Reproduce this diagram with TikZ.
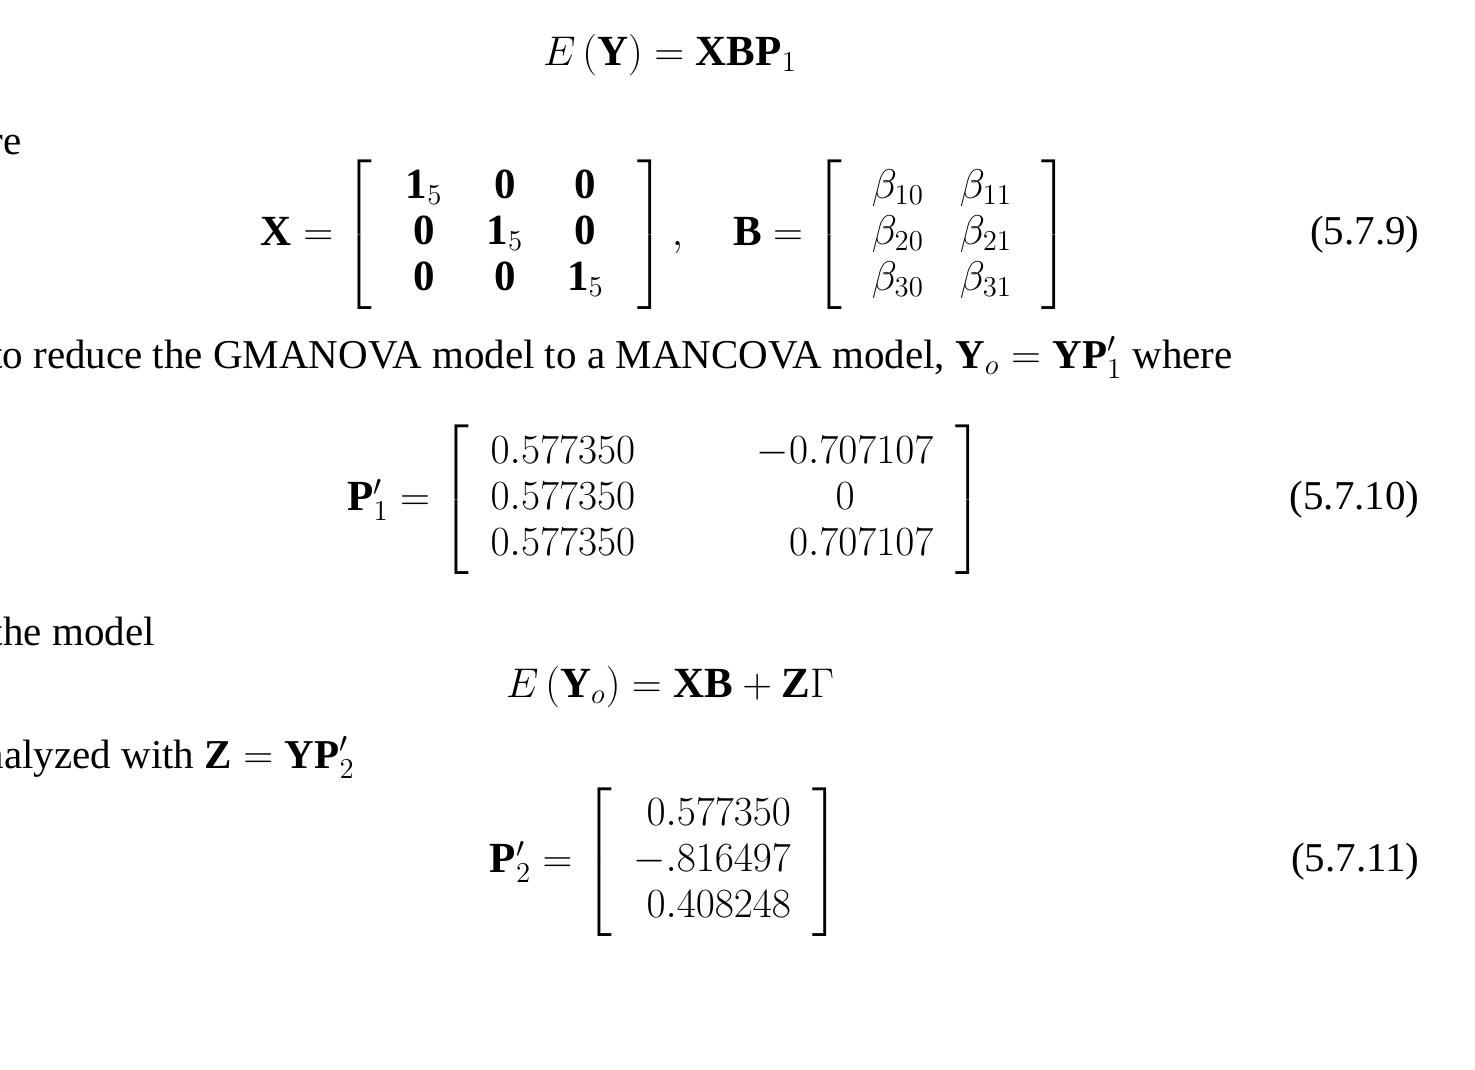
\documentclass[tikz,border=0pt]{standalone}
\usepackage{amsmath}
\usepackage{fontspec}
\setmainfont{Liberation Serif}
\begin{document}
\begin{tikzpicture}[x=0.5pt,y=-0.5pt,
  txt/.style={inner sep=0pt,font=\fontsize{20.5}{24}\selectfont},
  eq/.style={inner sep=0pt,font=\fontsize{21.5}{25}\selectfont}]
\clip (0,0) rectangle (1475,1069);
\useasboundingbox (0,0) rectangle (1475,1069);
\node[eq] (e1) at (670,55) {$E\,(\mathbf{Y})=\mathbf{XBP}_1$};
\node[txt,anchor=base east] (w1) at (22,155) {where};
\node[eq] (m1) at (665,235) {\renewcommand{\arraystretch}{0.92}$\mathbf{X}=\left[\;\arraycolsep=11pt\begin{array}{ccc}\mathbf{1}_5&\mathbf{0}&\mathbf{0}\\\mathbf{0}&\mathbf{1}_5&\mathbf{0}\\\mathbf{0}&\mathbf{0}&\mathbf{1}_5\end{array}\;\right],\quad
\mathbf{B}=\left[\;\arraycolsep=9pt\begin{array}{cc}\beta_{10}&\beta_{11}\\\beta_{20}&\beta_{21}\\\beta_{30}&\beta_{31}\end{array}\;\right]$};
\node[txt,anchor=east] (n1) at (1420,235) {(5.7.9)};
\node[txt,anchor=base east] (w2) at (1233,368) {to reduce the GMANOVA model to a MANCOVA model, $\mathbf{Y}_o=\mathbf{YP}_1'$ where};
\node[eq] (m2) at (665,500) {\renewcommand{\arraystretch}{0.92}$\mathbf{P}_1'=\left[\;\begin{array}{ccc}0.577350&\hspace{1.9em}&-0.707107\\0.577350&&0\\0.577350&&\phantom{-}0.707107\end{array}\;\right]$};
\node[txt,anchor=east] (n2) at (1420,500) {(5.7.10)};
\node[txt,anchor=base east] (w3) at (155,645) {the model};
\node[eq] (e2) at (670,687) {$E\,(\mathbf{Y}_o)=\mathbf{XB}+\mathbf{Z}\Gamma$};
\node[txt,anchor=base east] (w4) at (355,768) {analyzed with $\mathbf{Z}=\mathbf{YP}_2'$};
\node[eq] (m3) at (665,862) {\renewcommand{\arraystretch}{0.92}$\mathbf{P}_2'=\left[\;\begin{array}{r}0.577350\\-.816497\\0.408248\end{array}\;\right]$};
\node[txt,anchor=east] (n3) at (1420,862) {(5.7.11)};
\end{tikzpicture}
\end{document}
